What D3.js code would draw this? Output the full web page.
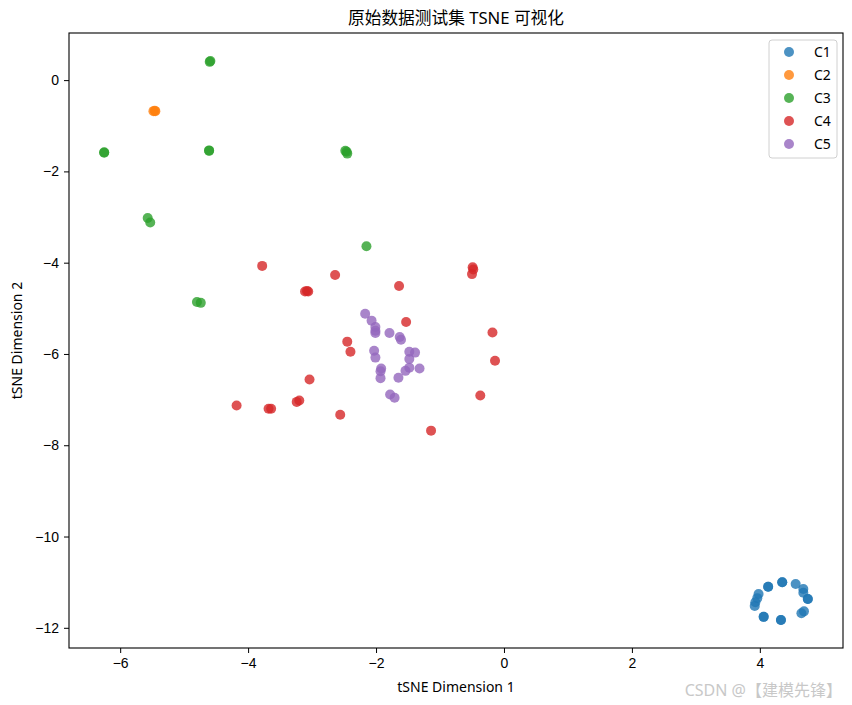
<!DOCTYPE html>
<html>
<head>
<meta charset="utf-8">
<script src="https://cdn.jsdelivr.net/npm/d3@7"></script>
<style>
  body { margin: 0; background: #fff; }
  svg { display: block; font-family: "Noto Sans", "Noto Sans CJK SC", sans-serif; }
</style>
</head>
<body>
<svg id="chart"></svg>
<script>
// Cluster labels and colours (tab10)
const classes = ["C1", "C2", "C3", "C4", "C5"];
const colors = ["#1f77b4", "#ff7f0e", "#2ca02c", "#d62728", "#9467bd"];

// tSNE coordinates, [dim1, dim2]
const c1Points = [
    [4.35, -11.00], [4.35, -11.00], [4.13, -11.10], [4.13, -11.10], [4.56, -11.04],
    [4.68, -11.15], [4.68, -11.23], [4.75, -11.37], [4.75, -11.37], [3.98, -11.26],
    [3.96, -11.35], [3.93, -11.44], [3.92, -11.52], [4.06, -11.76], [4.06, -11.76],
    [4.33, -11.83], [4.33, -11.83], [4.65, -11.68], [4.69, -11.64]
];
const c2Points = [[-5.48, -0.68], [-5.45, -0.68], [-5.46, -0.67]];
const c3Points = [
    [-4.60, 0.40], [-4.59, 0.42], [-6.25, -1.59], [-6.25, -1.58], [-4.61, -1.55], [-4.61, -1.54],
    [-2.48, -1.55], [-2.45, -1.61], [-2.46, -1.57], [-5.57, -3.02], [-5.53, -3.12],
    [-2.15, -3.64], [-4.80, -4.86], [-4.74, -4.88]
];
const c4Points = [
    [-3.78, -4.07], [-2.64, -4.27], [-3.11, -4.63], [-3.06, -4.63], [-3.08, -4.62],
    [-2.45, -5.73], [-2.40, -5.95], [-3.04, -6.56], [-4.18, -7.13], [-3.68, -7.20],
    [-3.64, -7.20], [-3.24, -7.05], [-3.20, -7.02], [-2.56, -7.33], [-1.64, -4.51],
    [-1.53, -5.30], [-0.49, -4.10], [-0.48, -4.15], [-0.50, -4.25], [-0.18, -5.53],
    [-0.14, -6.15], [-0.37, -6.91], [-1.14, -7.68]
];
const c5Points = [
    [-2.17, -5.12], [-2.07, -5.27], [-2.01, -5.41], [-2.01, -5.49], [-2.01, -5.54],
    [-1.79, -5.54], [-1.63, -5.63], [-1.61, -5.69], [-2.03, -5.93], [-2.01, -6.08],
    [-1.48, -5.95], [-1.39, -5.97], [-1.48, -6.11], [-1.48, -6.30], [-1.54, -6.37],
    [-1.32, -6.32], [-1.92, -6.32], [-1.93, -6.38], [-1.93, -6.53], [-1.65, -6.52],
    [-1.78, -6.89], [-1.71, -6.96]
];
const xTicks = [-6, -4, -2, 0, 2, 4];
const yTicks = [0, -2, -4, -6, -8, -10, -12];

const pointSets = [c1Points, c2Points, c3Points, c4Points, c5Points];

// Figure layout
const totalWidth = 852, totalHeight = 705;
const margin = { top: 33, right: 9, bottom: 57, left: 69 };
const width = totalWidth - margin.left - margin.right;
const height = totalHeight - margin.top - margin.bottom;

const svg = d3.select("#chart")
    .attr("width", totalWidth)
    .attr("height", totalHeight);

const g = svg.append("g")
    .attr("transform", `translate(${margin.left},${margin.top})`);

// Matplotlib-style autoscale: data extent plus 5% on each side
const allPoints = pointSets.flat();
function padded(ext) {
    const pad = (ext[1] - ext[0]) * 0.05;
    return [ext[0] - pad, ext[1] + pad];
}
const x = d3.scaleLinear()
    .domain(padded(d3.extent(allPoints, d => d[0])))
    .range([0, width]);
const y = d3.scaleLinear()
    .domain(padded(d3.extent(allPoints, d => d[1])))
    .range([height, 0]);

// Points
pointSets.forEach((pts, i) => {
    g.append("g")
        .selectAll("circle")
        .data(pts)
        .enter()
        .append("circle")
        .attr("cx", d => x(d[0]))
        .attr("cy", d => y(d[1]))
        .attr("r", 5)
        .style("fill", colors[i])
        .style("fill-opacity", 0.8);
});

// Axes
const xAxis = g.append("g")
    .attr("transform", `translate(0,${height})`)
    .call(d3.axisBottom(x).tickValues(xTicks).tickSize(5).tickPadding(5));
const yAxis = g.append("g")
    .call(d3.axisLeft(y).tickValues(yTicks).tickSize(5).tickPadding(5));
[xAxis, yAxis].forEach(ax => {
    ax.selectAll("text").style("font-size", "14px").style("fill", "#000");
    ax.selectAll("line").attr("stroke", "#000").attr("stroke-width", 1);
    ax.select(".domain").remove();
});

// Frame
g.append("rect")
    .attr("width", width)
    .attr("height", height)
    .attr("fill", "none")
    .attr("stroke", "#000")
    .attr("stroke-width", 1.1);

// Title and axis labels
svg.append("text")
    .attr("x", margin.left + width / 2)
    .attr("y", 24)
    .style("text-anchor", "middle")
    .style("font-size", "16.7px")
    .text("原始数据测试集 TSNE 可视化");
svg.append("text")
    .attr("x", margin.left + width / 2)
    .attr("y", 692)
    .style("text-anchor", "middle")
    .style("font-size", "14px")
    .text("tSNE Dimension 1");
svg.append("text")
    .attr("transform", `translate(22,${margin.top + height / 2}) rotate(-90)`)
    .style("text-anchor", "middle")
    .style("font-size", "14px")
    .text("tSNE Dimension 2");

// Legend
const legend = svg.append("g")
    .attr("transform", "translate(769,40)");
legend.append("rect")
    .attr("width", 68)
    .attr("height", 118)
    .attr("rx", 3)
    .attr("fill", "#fff")
    .attr("fill-opacity", 0.8)
    .attr("stroke", "#d0d0d0");
const items = legend.selectAll(".item")
    .data(classes)
    .enter().append("g")
    .attr("class", "item")
    .attr("transform", (d, i) => `translate(0,${12 + i * 23})`);
items.append("circle")
    .attr("cx", 20)
    .attr("cy", 0)
    .attr("r", 5)
    .style("fill", (d, i) => colors[i])
    .style("fill-opacity", 0.8);
items.append("text")
    .attr("x", 45)
    .attr("y", 0)
    .attr("dy", "0.35em")
    .style("font-size", "14px")
    .text(d => d);

// Watermark
svg.append("text")
    .attr("x", 842)
    .attr("y", 696)
    .style("text-anchor", "end")
    .style("font-size", "16px")
    .style("fill", "#c8c8c8")
    .text("CSDN @【建模先锋】");
</script>
</body>
</html>
